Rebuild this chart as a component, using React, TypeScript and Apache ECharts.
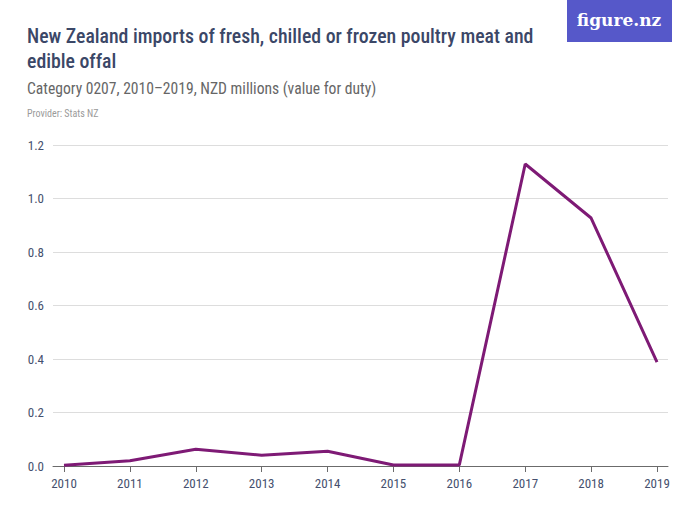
import React, { useEffect, useRef } from 'react';
import * as echarts from 'echarts';

const years = ['2010', '2011', '2012', '2013', '2014', '2015', '2016', '2017', '2018', '2019'];
const imports = [0.003, 0.02, 0.063, 0.04, 0.055, 0.004, 0.004, 1.129, 0.927, 0.388];
const yTicks = { min: 0, max: 1.2, interval: 0.2 };

const FONT = '"Liberation Sans Narrow", "Roboto Condensed", "Liberation Sans", sans-serif';
const SLATE = '#45506e';

const App: React.FC = () => {
  const chartRef = useRef<HTMLDivElement>(null);

  useEffect(() => {
    if (!chartRef.current) return;
    const chart = echarts.init(chartRef.current, null, { renderer: 'svg' });

    const option: any = {
      animation: false,
      backgroundColor: '#ffffff',
      textStyle: { fontFamily: FONT },
      graphic: [
        {
          type: 'text',
          left: 27,
          top: 24,
          style: {
            text: 'New Zealand imports of fresh, chilled or frozen poultry meat and\nedible offal',
            fontFamily: FONT,
            fontSize: 19.8,
            fontWeight: 500,
            lineHeight: 25,
            fill: '#3b4767'
          }
        },
        {
          type: 'text',
          left: 27,
          top: 81,
          style: {
            text: 'Category 0207, 2010–2019, NZD millions (value for duty)',
            fontFamily: FONT,
            fontSize: 15.6,
            fill: '#666666'
          }
        },
        {
          type: 'text',
          left: 27,
          top: 108,
          style: {
            text: 'Provider: Stats NZ',
            fontFamily: FONT,
            fontSize: 10,
            fill: '#9a9a9a'
          }
        },
        {
          type: 'rect',
          shape: { x: 567, y: 0, width: 105, height: 42 },
          style: { fill: '#5658c9' }
        },
        {
          type: 'text',
          x: 619,
          y: 20,
          style: {
            text: 'figure.nz',
            fontFamily: '"DejaVu Serif", "Liberation Serif", serif',
            fontSize: 17,
            fontWeight: 'bold',
            fill: '#ffffff',
            align: 'center',
            verticalAlign: 'middle'
          }
        }
      ],
      grid: [
        { left: 53, right: 32, top: 145, bottom: 59 },
        { left: 64, right: 43, top: 145, bottom: 59 }
      ],
      xAxis: [
        {
          gridIndex: 0,
          type: 'value',
          min: 0,
          max: 1,
          axisLine: { show: true, lineStyle: { color: '#6b6b6b', width: 1 } },
          axisTick: { show: false },
          axisLabel: { show: false },
          splitLine: { show: false }
        },
        {
          gridIndex: 1,
          type: 'category',
          data: years,
          boundaryGap: false,
          axisLine: { show: false },
          axisTick: { show: true, length: 6, lineStyle: { color: '#6b6b6b' } },
          axisLabel: { color: SLATE, fontSize: 13, margin: 11, fontFamily: FONT },
          splitLine: { show: false }
        }
      ],
      yAxis: [
        {
          gridIndex: 0,
          type: 'value',
          min: yTicks.min,
          max: yTicks.max,
          interval: yTicks.interval,
          axisLine: { show: false },
          axisTick: { show: false },
          axisLabel: {
            color: SLATE,
            fontSize: 13,
            margin: 9,
            fontFamily: FONT,
            formatter: (v: number) => v.toFixed(1)
          },
          splitLine: { show: true, lineStyle: { color: '#dddddd', width: 1 } }
        },
        {
          gridIndex: 1,
          type: 'value',
          min: yTicks.min,
          max: yTicks.max,
          interval: yTicks.interval,
          show: false
        }
      ],
      series: [
        {
          name: 'Imports',
          type: 'line',
          xAxisIndex: 1,
          yAxisIndex: 1,
          data: imports,
          symbol: 'none',
          lineStyle: { color: '#7e1a75', width: 3 },
          itemStyle: { color: '#7e1a75' }
        }
      ]
    };

    chart.setOption(option);
    return () => chart.dispose();
  }, []);

  return (
    <div
      ref={chartRef}
      style={{ position: 'fixed', left: 0, top: 0, width: 700, height: 525 }}
    />
  );
};

export default App;
